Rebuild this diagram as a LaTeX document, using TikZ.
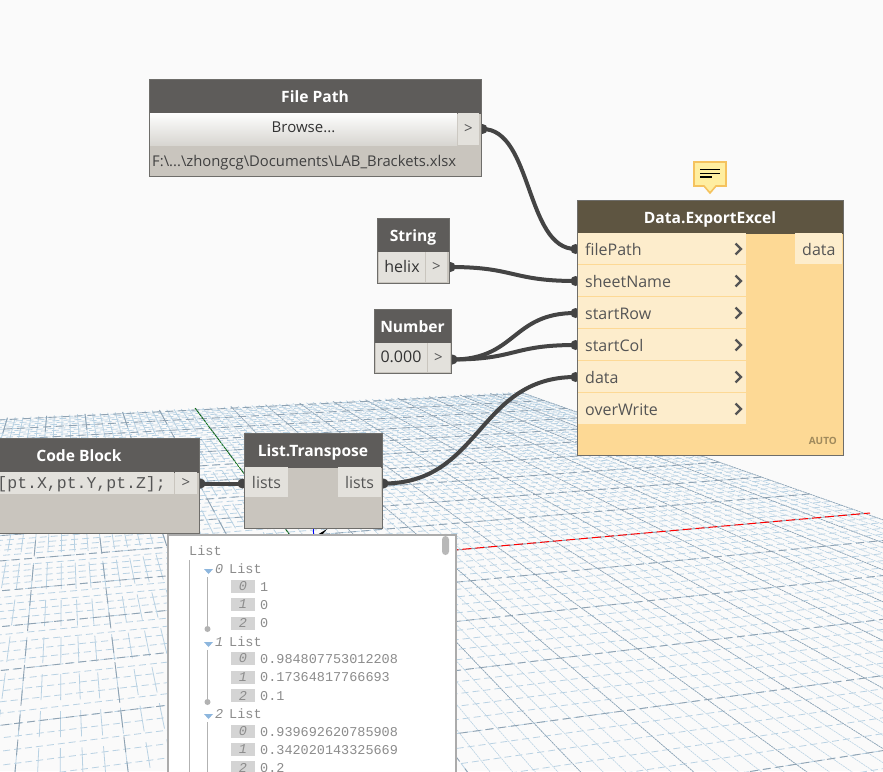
\documentclass[tikz,border=0pt]{standalone}
\usepackage{fontspec}
\setmainfont{Open Sans}
\newfontfamily\monof{Liberation Mono}
\definecolor{bgc}{HTML}{FAFAFA}
\definecolor{hdr}{HTML}{5E5C5A}
\definecolor{hdrx}{HTML}{5E5541}
\definecolor{bodyc}{HTML}{C9C5BE}
\definecolor{cellc}{HTML}{E3E1DC}
\definecolor{edgec}{HTML}{6E6D6A}
\definecolor{ambc}{HTML}{FDD995}
\definecolor{ambl}{HTML}{FDEDCC}
\definecolor{wirec}{HTML}{444444}
\definecolor{labc}{HTML}{555555}
\definecolor{gmin}{HTML}{B9D2E3}
\definecolor{gmaj}{HTML}{8FA2B2}
\definecolor{wtxt}{HTML}{8C8C8C}
\definecolor{tric}{HTML}{8DB6DD}
\definecolor{autoc}{HTML}{A08A5C}
\definecolor{notef}{HTML}{FFEEA0}
\definecolor{noted}{HTML}{F5C25E}
\tikzset{
 pb/.style n args={2}{anchor=north west,inner sep=0pt,outer sep=0pt,minimum width={(#1)*1pt},minimum height={(#2)*1pt}},
 frame/.style={draw=edgec,line width=1pt},
 head/.style={fill=hdr,text=white,text height=12.6pt,text depth=0pt,font=\fontsize{15.6}{16}\selectfont\bfseries},
 headx/.style={fill=hdrx,text=white,text height=12.6pt,text depth=0pt,font=\fontsize{15.6}{16}\selectfont\bfseries},
 cell/.style={fill=cellc,text=labc,text height=12pt,text depth=2pt,font=\fontsize{16}{16}\selectfont},
 arrowcell/.style={fill=cellc,text=labc,font=\fontsize{15}{15}\selectfont},
 plab/.style={anchor=base west,inner sep=0pt,text=labc,font=\fontsize{16}{16}\selectfont},
 wire/.style={draw=wirec,line width=4pt},
 port/.style={circle,fill=wirec,minimum size=10pt,inner sep=0pt},
 chev/.style={draw=labc,line width=2.4pt,line join=miter},
 gA/.style={draw=gmin,line width=.8pt,dash pattern=on 7pt off 4pt},
 gB/.style={draw=gmin,line width=.6pt,dash pattern=on 2pt off .7pt},
 gBf/.style={draw=gmin,line width=.8pt,dash pattern=on 26pt off 11pt},
 gAM/.style={draw=gmaj,line width=.9pt,dash pattern=on 8pt off 5pt},
 gBM/.style={draw=gmaj,line width=.6pt,dash pattern=on 2pt off .7pt},
 gBMf/.style={draw=gmaj,line width=.9pt,dash pattern=on 16pt off 9pt},
 wt/.style={anchor=base west,inner sep=0pt,text=wtxt,font=\fontsize{13.5}{13.5}\selectfont\monof},
 idx/.style={pb={24}{13},fill=black!17,text=wtxt,font=\fontsize{13.5}{13.5}\selectfont\monof\itshape},
 stem/.style={draw=black!30,line width=1pt},
}
% family through the far vanishing point; #1 = index along the x=457 crossing
\newcommand\famA[2]{%
 \pgfmathsetmacro\ya{228+1000/(5.926-.282*#1)}%
 \pgfmathsetmacro\ma{(\ya-197)/3943}%
 \pgfmathsetmacro\xe{(\ya+457*\ma-208.8)/(.3523+\ma)}%
 \pgfmathsetmacro\ye{\ya+\ma*(457-\xe)}%
 \pgfmathsetmacro\yl{\ya+\ma*462}%
 \draw[#2] (\xe,\ye) -- (-5,\yl);}
% family through the near vanishing point; #1 = index along the y=770 row
\newcommand\famB[2]{%
 \pgfmathsetmacro\xb{1593-112.7*#1}%
 \pgfmathsetmacro\tb{183.97/(539+.05026*(\xb-63))}%
 \draw[#2] ({63+\tb*(\xb-63)},{231+539*\tb}) -- ({63+1.05*(\xb-63)},{231+539*1.05});}
\begin{document}
\begin{tikzpicture}[x=1pt,y=-1pt]
\clip (0,0) rectangle (883,771);
\fill[bgc] (0,0) rectangle (883,771);
% ground grid
\foreach \i in {0,...,80}{\pgfmathsetmacro\jj{\i/5}\famA{\jj}{gA}}
\foreach \i in {0,...,100}{\pgfmathsetmacro\jj{\i/5}%
  \ifnum\i<50 \famB{\jj}{gB}\else \famB{\jj}{gBf}\fi}
\foreach \i in {0,...,16}{\famA{\i}{gAM}}
\foreach \i in {0,...,20}{\ifnum\i<10 \famB{\i}{gBM}\else \famB{\i}{gBMf}\fi}
% axes
\draw[red,line width=1pt,dash pattern=on 9pt off 4pt] (320,562) -- (870,513);
\draw[black!60!green,line width=.7pt,dash pattern=on 3pt off .7pt] (195,408) -- (289,534);
\draw[blue,line width=.8pt] (313,526) -- (313,535) -- (320,535);
\fill[black] (317,535) -- (327,529) -- (322,535) -- cycle;
% ports
\node[port] (fpout) at (482.5,129) {};
\node[port] (strout) at (450.5,267) {};
\node[port] (numout) at (452.5,359.5) {};
\node[port] (cbout) at (200.5,483.5) {};
\node[port] (ltin) at (242.5,483.5) {};
\node[port] (ltout) at (383.5,483.5) {};
\node[port] (infile) at (575.5,249) {};
\node[port] (insheet) at (575.5,281) {};
\node[port] (inrow) at (575.5,313) {};
\node[port] (incol) at (575.5,345) {};
\node[port] (indata) at (575.5,377) {};
% connectors
\draw[wire] (fpout.center) .. controls +(50,0) and +(-50,0) .. (infile.center);
\draw[wire] (strout.center) .. controls +(64,0) and +(-64,0) .. (insheet.center);
\draw[wire] (numout.center) .. controls +(64,0) and +(-64,0) .. (inrow.center);
\draw[wire] (numout.center) .. controls +(64,0) and +(-64,0) .. (incol.center);
\draw[wire] (cbout.center) -- (ltin.center);
\draw[wire] (ltout.center) .. controls +(98,0) and +(-98,0) .. (indata.center);
% File Path
\node[pb={332}{97},frame,fill=bodyc] (fpbox) at (149,79) {};
\node[pb={331}{34},head] (fphead) at (149.5,79.5) {File Path};
\node[pb={307}{32},top color=white!95!cellc,bottom color=cellc!95!black,text=black!80,text height=11pt,text depth=5pt,font=\fontsize{15}{15}\selectfont] (fpbrowse) at (150,113) {Browse...};
\node[pb={21}{32},arrowcell] (fparrow) at (458,113) {>};
\node[anchor=base west,inner sep=0pt,text=black!75,font=\fontsize{14.8}{15}\selectfont] (fppath) at (152,166) {F:\textbackslash...\textbackslash zhongcg\textbackslash Documents\textbackslash LAB\_Brackets.xlsx};
% String
\node[pb={72}{65},frame,fill=bodyc] (strbox) at (377,218) {};
\node[pb={71}{33},head] (strhead) at (377.5,218.5) {String};
\node[pb={46}{30},cell,text=black!80] (strval) at (379,252) {helix};
\node[pb={21}{30},arrowcell] (strarrow) at (426,252) {>};
% Number
\node[pb={77}{64},frame,fill=bodyc] (numbox) at (374,309) {};
\node[pb={76}{33},head] (numhead) at (374.5,309.5) {Number};
\node[pb={51}{29},cell,text=black!80] (numval) at (375.5,343) {0.000};
\node[pb={22}{29},arrowcell] (numarrow) at (427.5,343) {>};
% Code Block
\node[pb={240}{95},frame,fill=bodyc] (cbbox) at (-41,438) {};
\node[pb={239}{34},head] (cbhead) at (-40.5,438.5) {Code Block};
\node[pb={214}{22},fill=cellc] (cbcode) at (-40,472) {};
\node[anchor=base east,inner sep=0pt,text=labc,font=\fontsize{16.5}{16.5}\selectfont\monof] (cbtext) at (166,488) {[pt.X,pt.Y,pt.Z];};
\node[pb={22}{22},arrowcell] (cbarrow) at (175,472) {>};
% List.Transpose
\node[pb={138}{95},frame,fill=bodyc] (ltbox) at (244,433) {};
\node[pb={137}{34},head] (lthead) at (244.5,433.5) {List.Transpose};
\node[pb={43}{30},cell,text depth=0pt] (ltl) at (245,467) {lists};
\node[pb={43}{30},cell,text depth=0pt] (ltr) at (338,467) {lists};
% Data.ExportExcel
\node[pb={266}{255},frame,fill=ambc] (eebox) at (577,200) {};
\node[pb={265}{33},headx] (eehead) at (577.5,200.5) {Data.ExportExcel};
\foreach \n/\lab/\yy in {0/filePath/233,1/sheetName/265,2/startRow/297,3/startCol/329,4/data/361,5/overWrite/393}{
  \node[pb={168}{31},fill=ambl] (eerow\n) at (578,\yy) {};
  \node[plab] (eelab\n) at (585,\yy+22) {\lab};
  \draw[chev] (735.5,\yy+10.5) -- (741,\yy+16) -- (735.5,\yy+21.5);
}
\node[pb={47}{31},fill=ambl] (eeout) at (795,233) {};
\node[plab] (eeoutlab) at (802,255) {data};
\node[anchor=base east,inner sep=0pt,text=autoc,font=\fontsize{10}{10}\selectfont\bfseries] (eeauto) at (837,444) {AUTO};
% comment bubble
\draw[draw=noted,fill=notef,line width=1.6pt,line join=miter]
  (694,162) -- (726,162) -- (726,186) -- (716,186) -- (710,193) -- (704,186) -- (694,186) -- cycle;
\draw[black,line width=.8pt] (700,169) -- (720,169);
\draw[black,line width=.8pt] (700,173) -- (720,173);
\draw[black,line width=1.4pt] (700,177) -- (712,177);
% watch list
\node[pb={288}{260},draw=black!33,line width=1.2pt,fill=white] (wbox) at (168,535) {};
\fill[black!28,rounded corners=3.5pt] (442,536) rectangle (449,555);
\draw[stem] (189,560) -- (189,775);
\draw[stem] (207.5,577) -- (207.5,629);
\draw[stem] (207.5,650) -- (207.5,702);
\draw[stem] (207.5,722) -- (207.5,775);
\fill[black!30] (207.5,629) circle (3);
\fill[black!30] (207.5,702) circle (3);
\foreach \yy in {569,642,714}{\fill[tric] (204,\yy) -- (213,\yy) -- (208.5,\yy+5) -- cycle;}
\node[wt] (wroot) at (189,555) {List};
\foreach \n/\yy in {0/573,1/646,2/718}{
  \node[wt,font=\fontsize{13.5}{13.5}\selectfont\monof\itshape] (wi\n) at (215,\yy) {\n};
  \node[wt] (wl\n) at (229,\yy) {List};
}
\foreach \n/\yy/\k/\v in {a/580/0/1,b/598/1/0,c/616.5/2/0,d/652/0/0.984807753012208,e/670.5/1/0.17364817766693,f/689/2/0.1,g/725/0/0.939692620785908,h/743/1/0.342020143325669,i/761/2/0.2}{
  \node[idx] (wk\n) at (231,\yy) {\k};
  \node[wt] (wv\n) at (260,\yy+11) {\v};
}
\end{tikzpicture}
\end{document}
